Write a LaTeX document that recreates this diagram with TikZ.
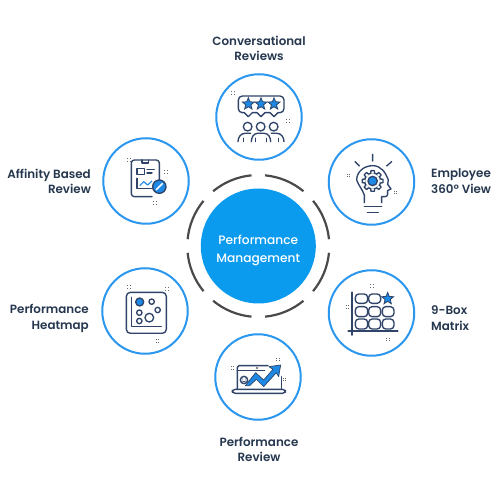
\documentclass[tikz,border=0pt]{standalone}
\usepackage{fontspec}
\setmainfont{Poppins}
\newfontfamily\popsemi{Poppins SemiBold}
\newfontfamily\popmed{Poppins Medium}
\usetikzlibrary{shapes.geometric}
\definecolor{navy}{HTML}{2F4468}
\definecolor{ringblue}{HTML}{2B97EE}
\definecolor{iconblue}{HTML}{1E88E5}
\definecolor{hub}{HTML}{0B9BEE}
\definecolor{ringgray}{HTML}{4A4A4A}
\definecolor{labelc}{HTML}{26384F}
\newcommand{\dotcl}[2]{\foreach \dx in {-4,4}\foreach \dy in {-4,4}\fill[gray!80!black] (#1+\dx-1.2,#2+\dy-1.2) rectangle ++(2.4,2.4);}
\tikzset{
 item/.style={circle,draw=ringblue,line width=2pt,fill=white,minimum size=85.5pt,inner sep=0},
 lab/.style={font=\fontsize{11.9}{15.5}\selectfont\popsemi,text=labelc,inner sep=0,align=center},
 ic/.style={draw=navy,line width=1.35pt,line cap=round,line join=round},
 icb/.style={ic,fill=iconblue},
 arcseg/.style={draw=ringgray,line width=2.2pt},
 zoomed/.style={x=.3333pt,y=-.3333pt},
 st/.style={star,star points=5,star point ratio=2.3,draw=navy,line width=.8pt,fill=iconblue,inner sep=0,minimum size=12.5pt}
}
\begin{document}
\begin{tikzpicture}[x=1pt,y=-1pt]
\useasboundingbox[fill=white] (0,0) rectangle (504,486);
\node[circle,fill=hub,minimum size=115pt,inner sep=0] (hubn) at (258.3,246) {};
\node[text=white,align=center,inner sep=0,font=\fontsize{12.2}{18}\selectfont\popmed] (hubt) at (258.3,250) {Performance\\Management};
\begin{scope}[shift={(258.3,246)}]
\foreach \a in {0,45,...,315}
  \draw[arcseg] (\a+5.5:71) arc[start angle=\a+5.5,end angle=\a+39.5,radius=71];
\end{scope}
\node[item] (c1) at (259,117) {};
\node[item] (c2) at (371.5,182) {};
\node[item] (c3) at (371.5,313) {};
\node[item] (c4) at (258,377) {};
\node[item] (c5) at (145,311) {};
\node[item] (c6) at (146,181) {};
\node[lab] (t1) at (259,48.5) {Conversational\\Reviews};
\node[lab,align=left,anchor=west] (t2) at (431,181.3) {Employee\\360º View};
\node[lab,align=left,anchor=west] (t3) at (431,318) {9-Box\\Matrix};
\node[lab] (t4) at (259,449.5) {Performance\\Review};
\node[lab,align=right,anchor=east] (t5) at (89,318.5) {Performance\\Heatmap};
\node[lab,align=right,anchor=east] (t6) at (91,181.3) {Affinity Based\\Review};
% icon 1
\begin{scope}[shift={(210,70)},zoomed]
\draw[ic] (97,78) -- (210,78) to[out=0,in=90] (222,90) -- (222,116) to[out=-90,in=0] (210,128) -- (204,128) -- (192,140) -- (180,128) -- (165,128) -- (153,140) -- (141,128) -- (127,128) -- (115,140) -- (103,128) -- (97,128) to[out=180,in=-90] (85,116) -- (85,90) to[out=90,in=180] cycle;
\node[st] (s1) at (115,102) {};\node[st] (s2) at (153,102) {};\node[st] (s3) at (192,102) {};
\draw[ic] (113,170) circle[radius=13] (152,170) circle[radius=13] (191,170) circle[radius=13];
\draw[ic] (84,215) to[out=90,in=180] (105,190) -- (122,190);
\draw[ic] (124,215) to[out=90,in=180] (143,190) -- (163,190) to[out=0,in=90] (182,215);
\draw[ic] (222,215) to[out=90,in=0] (201,190) -- (184,190);
\draw[ic] (100,215) -- (100,205) (206,215) -- (206,205) (137,215)--(137,205) (169,215)--(169,205);
\dotcl{68}{68}\dotcl{233}{152}
\end{scope}
% icon 2
\begin{scope}[shift={(320,135)},zoomed]
\draw[ic] (158,58)--(158,78) (105,80)--(118,93) (215,80)--(200,93);
\draw[ic] (133,203) -- (133,180) to[out=110,in=-70] (110,135) to[out=90,in=180] (158,92) to[out=0,in=110] (205,135) -- (203,148) -- (213,162) -- (203,167) -- (203,178) to[out=-90,in=0] (195,185) -- (185,185) -- (185,203);
\draw[ic] (133,215)--(185,215) (142,232)--(175,232);
\begin{scope}[shift={(158,138)}]
\draw[ic] (0,0) circle[radius=24];
\foreach \a in {0,45,...,315}{
 \begin{scope}[rotate=\a]
 \fill[white] (-6,22)--(-5,31)--(5,31)--(6,22)--cycle;
 \draw[ic] (-6,23)--(-5,31)--(5,31)--(6,23);
 \end{scope}}
\draw[icb] (0,0) circle[radius=14];
\end{scope}
\dotcl{85}{121}\dotcl{226}{172}
\end{scope}
% icon 3
\begin{scope}[shift={(320,265)},zoomed]
\draw[ic,line width=1.7pt] (97,82)--(97,210) (85,198)--(233,198);
\foreach \l/\r in {106/143,146/182,187/222}
  \foreach \t/\b in {125/155,162/192}
    \draw[ic,rounded corners=3.5pt] (\l,\t) rectangle (\r,\b);
\foreach \l/\r in {106/143,146/182}
    \draw[ic,rounded corners=3.5pt] (\l,87) rectangle (\r,115);
\node[st,minimum size=12.5pt] (s4) at (203,101) {};
\dotcl{156}{62}\dotcl{82}{125}\dotcl{203}{223}
\end{scope}
% icon 4
\begin{scope}[shift={(208,330)},zoomed]
\draw[ic] (88,178)--(88,112) to[out=90,in=180] (93,107)--(180,107);
\draw[ic] (88,121)--(170,121);
\draw[ic] (220,140)--(220,178);
\fill[gray] (147,114) circle[radius=4];
\draw[ic,rounded corners=3pt] (73,178) rectangle (232,190);
\draw[ic] (108,150) circle[radius=11];
\draw[ic,line width=.7pt] (103,153) to[out=-60,in=-120] (113,153);
\fill[navy] (104,147) circle[radius=1.5] (112,147) circle[radius=1.5];
\draw[icb,line width=.7pt] (112,167)--(143,128)--(167,150)--(195,118)--(183,110)--(218,105)--(212,140)--(205,128)--(167,170)--(145,148)--(125,167)--cycle;
\dotcl{73}{113}\dotcl{210}{88}\dotcl{229}{148}
\end{scope}
% icon 5
\begin{scope}[shift={(97,265)},zoomed]
\draw[ic,rounded corners=4pt] (88,82) rectangle (208,205);
\draw[ic] (104,97)--(104,185)--(193,185);
\draw[icb] (128,111) circle[radius=12];
\draw[ic] (164,110) circle[radius=8] (182,135) circle[radius=8] (127,143) circle[radius=8] (127,168) circle[radius=8] (157,158) circle[radius=13];
\dotcl{96}{66}\dotcl{210}{72}\dotcl{181}{227}
\end{scope}
% icon 6
\begin{scope}[shift={(97,135)},zoomed]
\draw[ic] (165,185)--(112,185) to[out=180,in=-90] (103,176)--(103,84) to[out=90,in=180] (112,75)--(178,75) to[out=0,in=90] (187,84)--(187,135);
\draw[ic] (135,75)--(135,84)--(155,84)--(155,75);
\draw[ic] (120,100) rectangle (143,118);
\draw[ic] (150,103)--(172,103) (150,114)--(165,114);
\draw[ic] (120,130)--(120,160)--(165,160);
\draw[draw=iconblue,line width=1.15pt,line join=round] (128,152)--(140,140)--(152,150)--(165,138);
\draw[icb] (187,155) circle[radius=20];
\draw[white,line width=1.6pt] (177,165)--(197,145);
\dotcl{96}{75}\dotcl{207}{110}\dotcl{174}{203}
\end{scope}
\end{tikzpicture}
\end{document}
